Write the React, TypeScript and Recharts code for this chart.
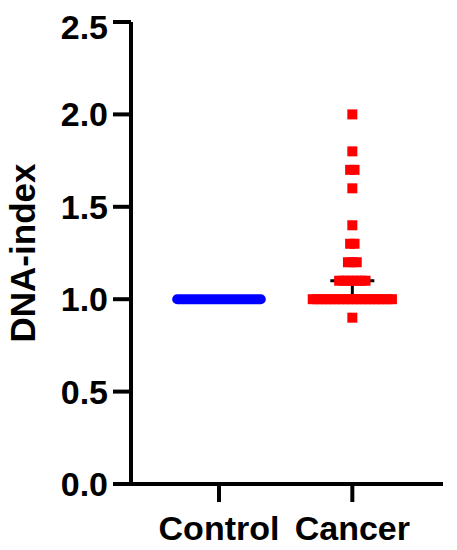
import React from "react";
import { ScatterChart, Scatter, XAxis, YAxis, ErrorBar, Label } from "recharts";

const groups = ["Control", "Cancer"];
const controlValues = [1.0];
const controlCounts = [20];
const cancerValues = [0.9, 1.0, 1.1, 1.2, 1.3, 1.4, 1.6, 1.7, 1.8, 2.0];
const cancerCounts = [1, 19, 7, 3, 2, 1, 1, 2, 1, 1];
const cancerMedian = 1.0;
const cancerQ1 = 1.0;
const cancerQ3 = 1.1;
const yTicks = [0, 0.5, 1.0, 1.5, 2.0, 2.5];

const controlData = controlValues.map((v, i) => ({ x: 1, y: v, n: controlCounts[i] }));
const cancerData = cancerValues.map((v, i) => ({ x: 2, y: v, n: cancerCounts[i] }));
const summaryData = [
  { x: 2, y: cancerMedian, err: [cancerMedian - cancerQ1, cancerQ3 - cancerMedian] },
];

const FONT = "'Liberation Sans', Arial, sans-serif";
const SIZE = 10;
const STEP = 4.4;

// overlapping circles merge into one rounded band
const CircleRow = (props: any) => {
  const { cx, cy, payload } = props;
  const w = SIZE + (payload.n - 1) * STEP;
  return <rect x={cx - w / 2} y={cy - SIZE / 2} width={w} height={SIZE} rx={SIZE / 2} fill="#0000ff" />;
};

const SquareRow = (props: any) => {
  const { cx, cy, payload } = props;
  const n = payload.n;
  return (
    <g>
      {Array.from({ length: n }, (_, i) => (
        <rect
          key={i}
          x={cx + (i - (n - 1) / 2) * STEP - SIZE / 2}
          y={cy - SIZE / 2}
          width={SIZE}
          height={SIZE}
          fill="#ff0000"
        />
      ))}
    </g>
  );
};

const tickStyle = { fontFamily: FONT, fontWeight: 700, fontSize: 34, fill: "#000" };
const lineStyle = { stroke: "#000", strokeWidth: 4 };

export default function App() {
  return (
    <ScatterChart width={449} height={542} margin={{ top: 14, right: 14, bottom: 0, left: 0 }}>
      <XAxis
        type="number"
        dataKey="x"
        domain={[0.34, 2.68]}
        ticks={[1, 2]}
        tickFormatter={(v: number) => groups[v - 1]}
        height={66}
        tickSize={18}
        tickMargin={14}
        tick={tickStyle}
        axisLine={lineStyle}
        tickLine={lineStyle}
        allowDataOverflow
      />
      <YAxis
        type="number"
        dataKey="y"
        domain={[0, 2.5]}
        ticks={yTicks}
        tickFormatter={(v: number) => v.toFixed(1)}
        width={123}
        tickSize={18}
        tickMargin={5}
        tick={tickStyle}
        axisLine={lineStyle}
        tickLine={lineStyle}
      >
        <Label
          value="DNA-index"
          angle={-90}
          position="insideLeft"
          offset={15}
          style={{ textAnchor: "middle", fontFamily: FONT, fontWeight: 700, fontSize: 35, fill: "#000" }}
        />
      </YAxis>
      <Scatter data={controlData} shape={CircleRow} isAnimationActive={false} />
      <Scatter data={summaryData} shape={() => <g />} isAnimationActive={false}>
        <ErrorBar dataKey="err" direction="y" width={22} stroke="#000" strokeWidth={3} />
      </Scatter>
      <Scatter data={cancerData} shape={SquareRow} isAnimationActive={false} />
    </ScatterChart>
  );
}
